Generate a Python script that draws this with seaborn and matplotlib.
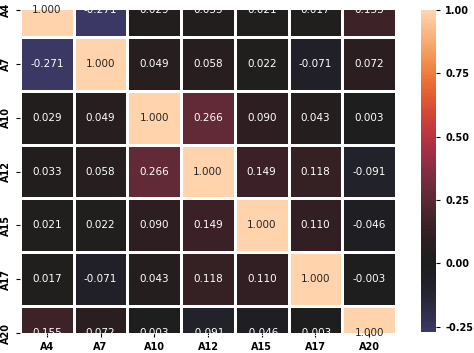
import numpy as np
import pandas as pd
import matplotlib
matplotlib.use("Agg")
import matplotlib.pyplot as plt
import seaborn as sns

# feature names and pairwise correlation values
features = ["A4", "A7", "A10", "A12", "A15", "A17", "A20"]
row_a4 = [1.000, -0.271, 0.029, 0.033, 0.021, 0.017, 0.155]
row_a7 = [-0.271, 1.000, 0.049, 0.058, 0.022, -0.071, 0.072]
row_a10 = [0.029, 0.049, 1.000, 0.266, 0.090, 0.043, 0.003]
row_a12 = [0.033, 0.058, 0.266, 1.000, 0.149, 0.118, -0.091]
row_a15 = [0.021, 0.022, 0.090, 0.149, 1.000, 0.110, -0.046]
row_a17 = [0.017, -0.071, 0.043, 0.118, 0.110, 1.000, -0.003]
row_a20 = [0.155, 0.072, 0.003, -0.091, -0.046, -0.003, 1.000]
cbar_ticks = [-0.25, 0.0, 0.25, 0.50, 0.75, 1.00]

corr = pd.DataFrame(
    [row_a4, row_a7, row_a10, row_a12, row_a15, row_a17, row_a20],
    index=features, columns=features,
)

fig = plt.figure(figsize=(4.74, 3.53), dpi=100)
ax = fig.add_axes([20 / 474, 20 / 353, 376 / 474, 323 / 353])
cax = fig.add_axes([421 / 474, 21 / 353, 15 / 474, 322 / 353])

sns.heatmap(
    corr,
    annot=True,
    fmt=".3f",
    annot_kws={"size": 7.5},
    center=0,
    linewidths=1.0,
    linecolor="white",
    ax=ax,
    cbar_ax=cax,
    cbar_kws={"ticks": cbar_ticks, "format": "%.2f"},
)

# old matplotlib cut half of the top and bottom rows
ax.set_ylim(6.5, 0.5)

ax.tick_params(axis="both", labelsize=7, length=3)
for lab in ax.get_xticklabels():
    lab.set_fontweight("bold")
    lab.set_rotation(0)
for lab in ax.get_yticklabels():
    lab.set_fontweight("bold")
    lab.set_rotation(90)
    lab.set_va("center")

cax.tick_params(labelsize=7, length=3)
for lab in cax.get_yticklabels():
    lab.set_fontweight("bold")

fig.savefig("out.png", dpi=100)
